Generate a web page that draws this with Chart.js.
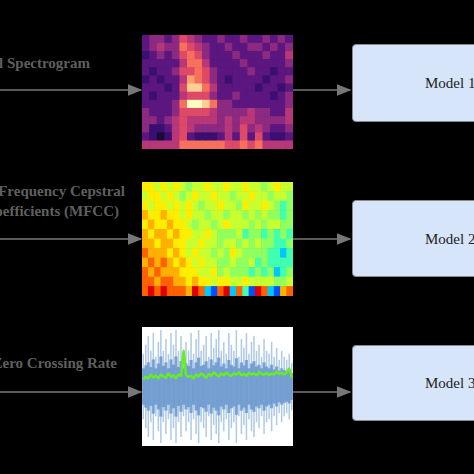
<!DOCTYPE html>
<html>
<head>
<meta charset="utf-8">
<script src="https://cdn.jsdelivr.net/npm/chart.js@4"></script>
<style>
body{margin:0;background:#000;width:474px;height:474px;overflow:hidden;position:relative;font-family:"Liberation Serif","DejaVu Serif",serif;}
.lbl{position:absolute;color:#5f5f5f;font-weight:bold;font-size:15px;text-align:right;width:300px;white-space:nowrap;}
.box{position:absolute;left:352px;width:170px;background:#d6e5fa;border:1.5px solid #8a8a8a;border-radius:4px;box-sizing:border-box;}
.box span{position:absolute;left:72px;top:50%;transform:translateY(-50%);font-size:15px;color:#222;white-space:nowrap;}
.pic{position:absolute;left:142px;width:151px;}
svg{position:absolute;left:0;top:0;}
</style>
</head>
<body>
<svg width="474" height="474">
<defs><marker id="ah" markerWidth="10" markerHeight="8" refX="9" refY="4" orient="auto"><path d="M0,0 L10,4 L0,8 z" fill="#777"/></marker></defs>
<g stroke="#777" stroke-width="1.5" marker-end="url(#ah)">
<line x1="0" y1="90" x2="141" y2="90"/><line x1="293" y1="90" x2="350" y2="90"/>
<line x1="0" y1="239" x2="141" y2="239"/><line x1="293" y1="239" x2="350" y2="239"/>
<line x1="0" y1="392" x2="141" y2="392"/><line x1="293" y1="392" x2="350" y2="392"/>
</g>
</svg>
<div class="lbl" style="left:-210px;top:55px">Mel Spectrogram</div>
<div class="lbl" style="left:-175px;top:183px">Mel-Frequency Cepstral</div>
<div class="lbl" style="left:-181px;top:203px">Coefficients (MFCC)</div>
<div class="lbl" style="left:-183px;top:355px">Zero Crossing Rate</div>
<div class="pic" style="top:35px;height:114px"><canvas id="spec"></canvas></div>
<div class="pic" style="top:182px;height:114px"><canvas id="mfcc"></canvas></div>
<div class="pic" style="top:327px;height:119px;background:#fff"><canvas id="zcr"></canvas></div>
<div class="box" style="top:44px;height:78px"><span>Model 1</span></div>
<div class="box" style="top:200px;height:77px"><span>Model 2</span></div>
<div class="box" style="top:345px;height:76px"><span>Model 3</span></div>
<script>
// spectrogram levels, top row first
const specRows = [
[2,3,3,2,3,5,4,3,2,2,3,2,2,3,2,2,3,2,3,2],
[2,3,4,3,3,6,5,4,3,2,2,3,2,2,3,3,2,3,2,3],
[1,2,3,2,3,5,6,5,3,2,2,2,3,2,2,2,3,2,2,4],
[2,2,2,2,2,4,6,6,4,2,2,2,2,3,2,2,2,2,2,3],
[2,1,2,2,3,5,5,6,5,3,2,2,2,2,3,2,2,1,2,2],
[1,2,1,2,2,4,7,6,5,3,2,1,2,2,2,2,1,2,2,3],
[2,2,2,1,2,5,8,8,6,4,2,2,2,2,2,1,2,2,1,2],
[2,1,2,2,2,4,5,5,5,3,2,2,3,2,2,2,2,1,2,3],
[2,2,2,2,3,6,9,9,8,6,3,3,2,2,2,2,2,2,2,3],
[3,2,2,2,3,5,5,5,5,4,3,3,3,3,4,3,3,2,2,4],
[3,3,2,3,4,5,4,4,4,4,3,4,3,4,4,3,3,3,3,4],
[3,1,1,2,4,5,4,3,3,3,3,4,3,5,3,4,3,2,2,3],
[2,1,0,1,4,5,2,1,1,1,2,4,2,5,2,5,2,1,1,2],
[4,4,4,4,4,6,6,6,6,6,6,5,5,6,5,6,4,4,4,4]
];
const magma = ['#1a0a3a','#3b0f70','#5c167f','#8c2981','#b73779','#de4968','#f7705c','#fe9f6d','#fecf92','#fcfdbf'];

// MFCC levels, top row first
const mfccRows = [
[6,6,5,6,5,6,5,4,5,5,6,5,5,6,5,5,6,5,5,4,5,6,5,5],
[5,6,6,5,6,5,4,5,6,5,5,6,5,5,4,5,5,6,5,5,4,5,5,4],
[6,5,6,6,5,6,5,6,5,4,5,5,6,5,5,4,6,5,5,6,5,4,3,4],
[7,6,6,7,6,6,5,6,5,5,4,5,5,4,5,5,4,5,4,5,4,4,3,4],
[6,7,6,6,7,6,6,5,4,5,5,4,5,6,5,5,5,4,5,4,5,5,4,4],
[7,6,7,7,6,7,6,6,5,5,6,5,4,4,4,5,3,4,4,3,4,3,4,3],
[7,7,6,7,7,6,6,5,5,6,5,5,4,5,5,4,5,4,5,4,4,3,3,4],
[8,7,7,7,6,7,6,5,6,5,5,4,5,4,6,5,4,4,4,4,3,3,2,3],
[7,8,7,8,7,6,7,6,5,6,5,5,4,4,5,4,4,5,3,4,3,3,3,3],
[8,7,8,7,7,7,6,6,6,5,5,6,4,5,4,4,4,3,4,3,4,2,3,4],
[8,8,7,8,8,7,7,6,7,6,6,5,6,6,5,5,6,5,5,5,5,4,4,5],
[8,9,8,9,8,8,8,7,9,8,2,1,8,9,2,8,3,1,9,8,2,1,7,8]
];
const jet = ['#00007f','#0050ff','#00c8ff','#40ffb0','#90ff60','#c8ff30','#ffee00','#ffb000','#ff6000','#e00000'];

// waveform envelope and zero crossing rate
const waveAmp = [0.55,0.7,0.85,0.6,0.9,0.5,0.75,0.95,0.6,0.8,0.55,0.9,0.7,0.95,0.6,0.85,0.5,0.75,0.6,0.9,
0.55,0.8,0.95,0.6,0.7,0.85,0.5,0.9,0.65,0.8,0.95,0.6,0.75,0.55,0.9,0.7,0.6,0.95,0.5,0.8,
0.65,0.9,0.55,0.75,0.85,0.6,0.7,0.5,0.8,0.6,0.55,0.75,0.5,0.65,0.45,0.6,0.5,0.45,0.55,0.4];
const waveCore = [0.3,0.35,0.4,0.32,0.45,0.3,0.38,0.5,0.34,0.4,0.3,0.45,0.36,0.5,0.32,0.42,0.3,0.38,0.34,0.44,
0.3,0.4,0.48,0.34,0.36,0.42,0.3,0.45,0.35,0.4,0.48,0.33,0.38,0.3,0.44,0.36,0.33,0.47,0.3,0.4,
0.35,0.44,0.3,0.38,0.42,0.33,0.36,0.3,0.4,0.33,0.3,0.36,0.28,0.33,0.26,0.3,0.27,0.25,0.28,0.22];
const zcrLine = [0.12,0.16,0.14,0.2,0.15,0.18,0.14,0.2,0.17,0.15,0.22,0.16,0.19,0.14,0.2,0.18,0.6,0.2,0.16,0.18,
0.14,0.2,0.17,0.22,0.19,0.15,0.21,0.18,0.24,0.2,0.17,0.22,0.19,0.23,0.2,0.18,0.22,0.2,0.24,0.19,
0.21,0.18,0.23,0.2,0.22,0.19,0.24,0.21,0.2,0.23,0.19,0.22,0.2,0.25,0.21,0.23,0.2,0.24,0.3,0.15];

const bare = {
  responsive:true, maintainAspectRatio:false, animation:false,
  layout:{padding:0},
  plugins:{legend:{display:false},tooltip:{enabled:false}},
  scales:{
    x:{display:false,stacked:true},
    y:{display:false,stacked:true,min:0}
  }
};

function heatmap(id, rows, pal){
  const cols = rows[0].map((_,i)=>i);
  const datasets = rows.slice().reverse().map(r=>({
    data:r.map(()=>1),
    backgroundColor:r.map(v=>pal[v]),
    borderWidth:0,
    barPercentage:1,
    categoryPercentage:1
  }));
  const opts = JSON.parse(JSON.stringify(bare));
  opts.scales.y.max = rows.length;
  new Chart(document.getElementById(id),{type:'bar',data:{labels:cols,datasets},options:opts});
}

heatmap('spec', specRows, magma);
heatmap('mfcc', mfccRows, jet);

const zopts = JSON.parse(JSON.stringify(bare));
zopts.scales.x.stacked = false;
zopts.scales.y.stacked = false;
zopts.scales.y.min = -1;
zopts.scales.y.max = 1;
new Chart(document.getElementById('zcr'),{
  data:{
    labels:waveAmp.map((_,i)=>i),
    datasets:[
      {type:'line',data:zcrLine,borderColor:'#66ee22',borderWidth:2.5,pointRadius:0,tension:0.2},
      {type:'bar',data:waveCore.map(a=>[-a,a]),backgroundColor:'rgba(90,140,200,0.7)',barPercentage:1,categoryPercentage:1,grouped:false},
      {type:'bar',data:waveAmp.map(a=>[-a,a]),backgroundColor:'rgba(140,180,220,0.7)',barPercentage:0.6,categoryPercentage:1,grouped:false}
    ]
  },
  options:zopts
});
</script>
</body>
</html>
